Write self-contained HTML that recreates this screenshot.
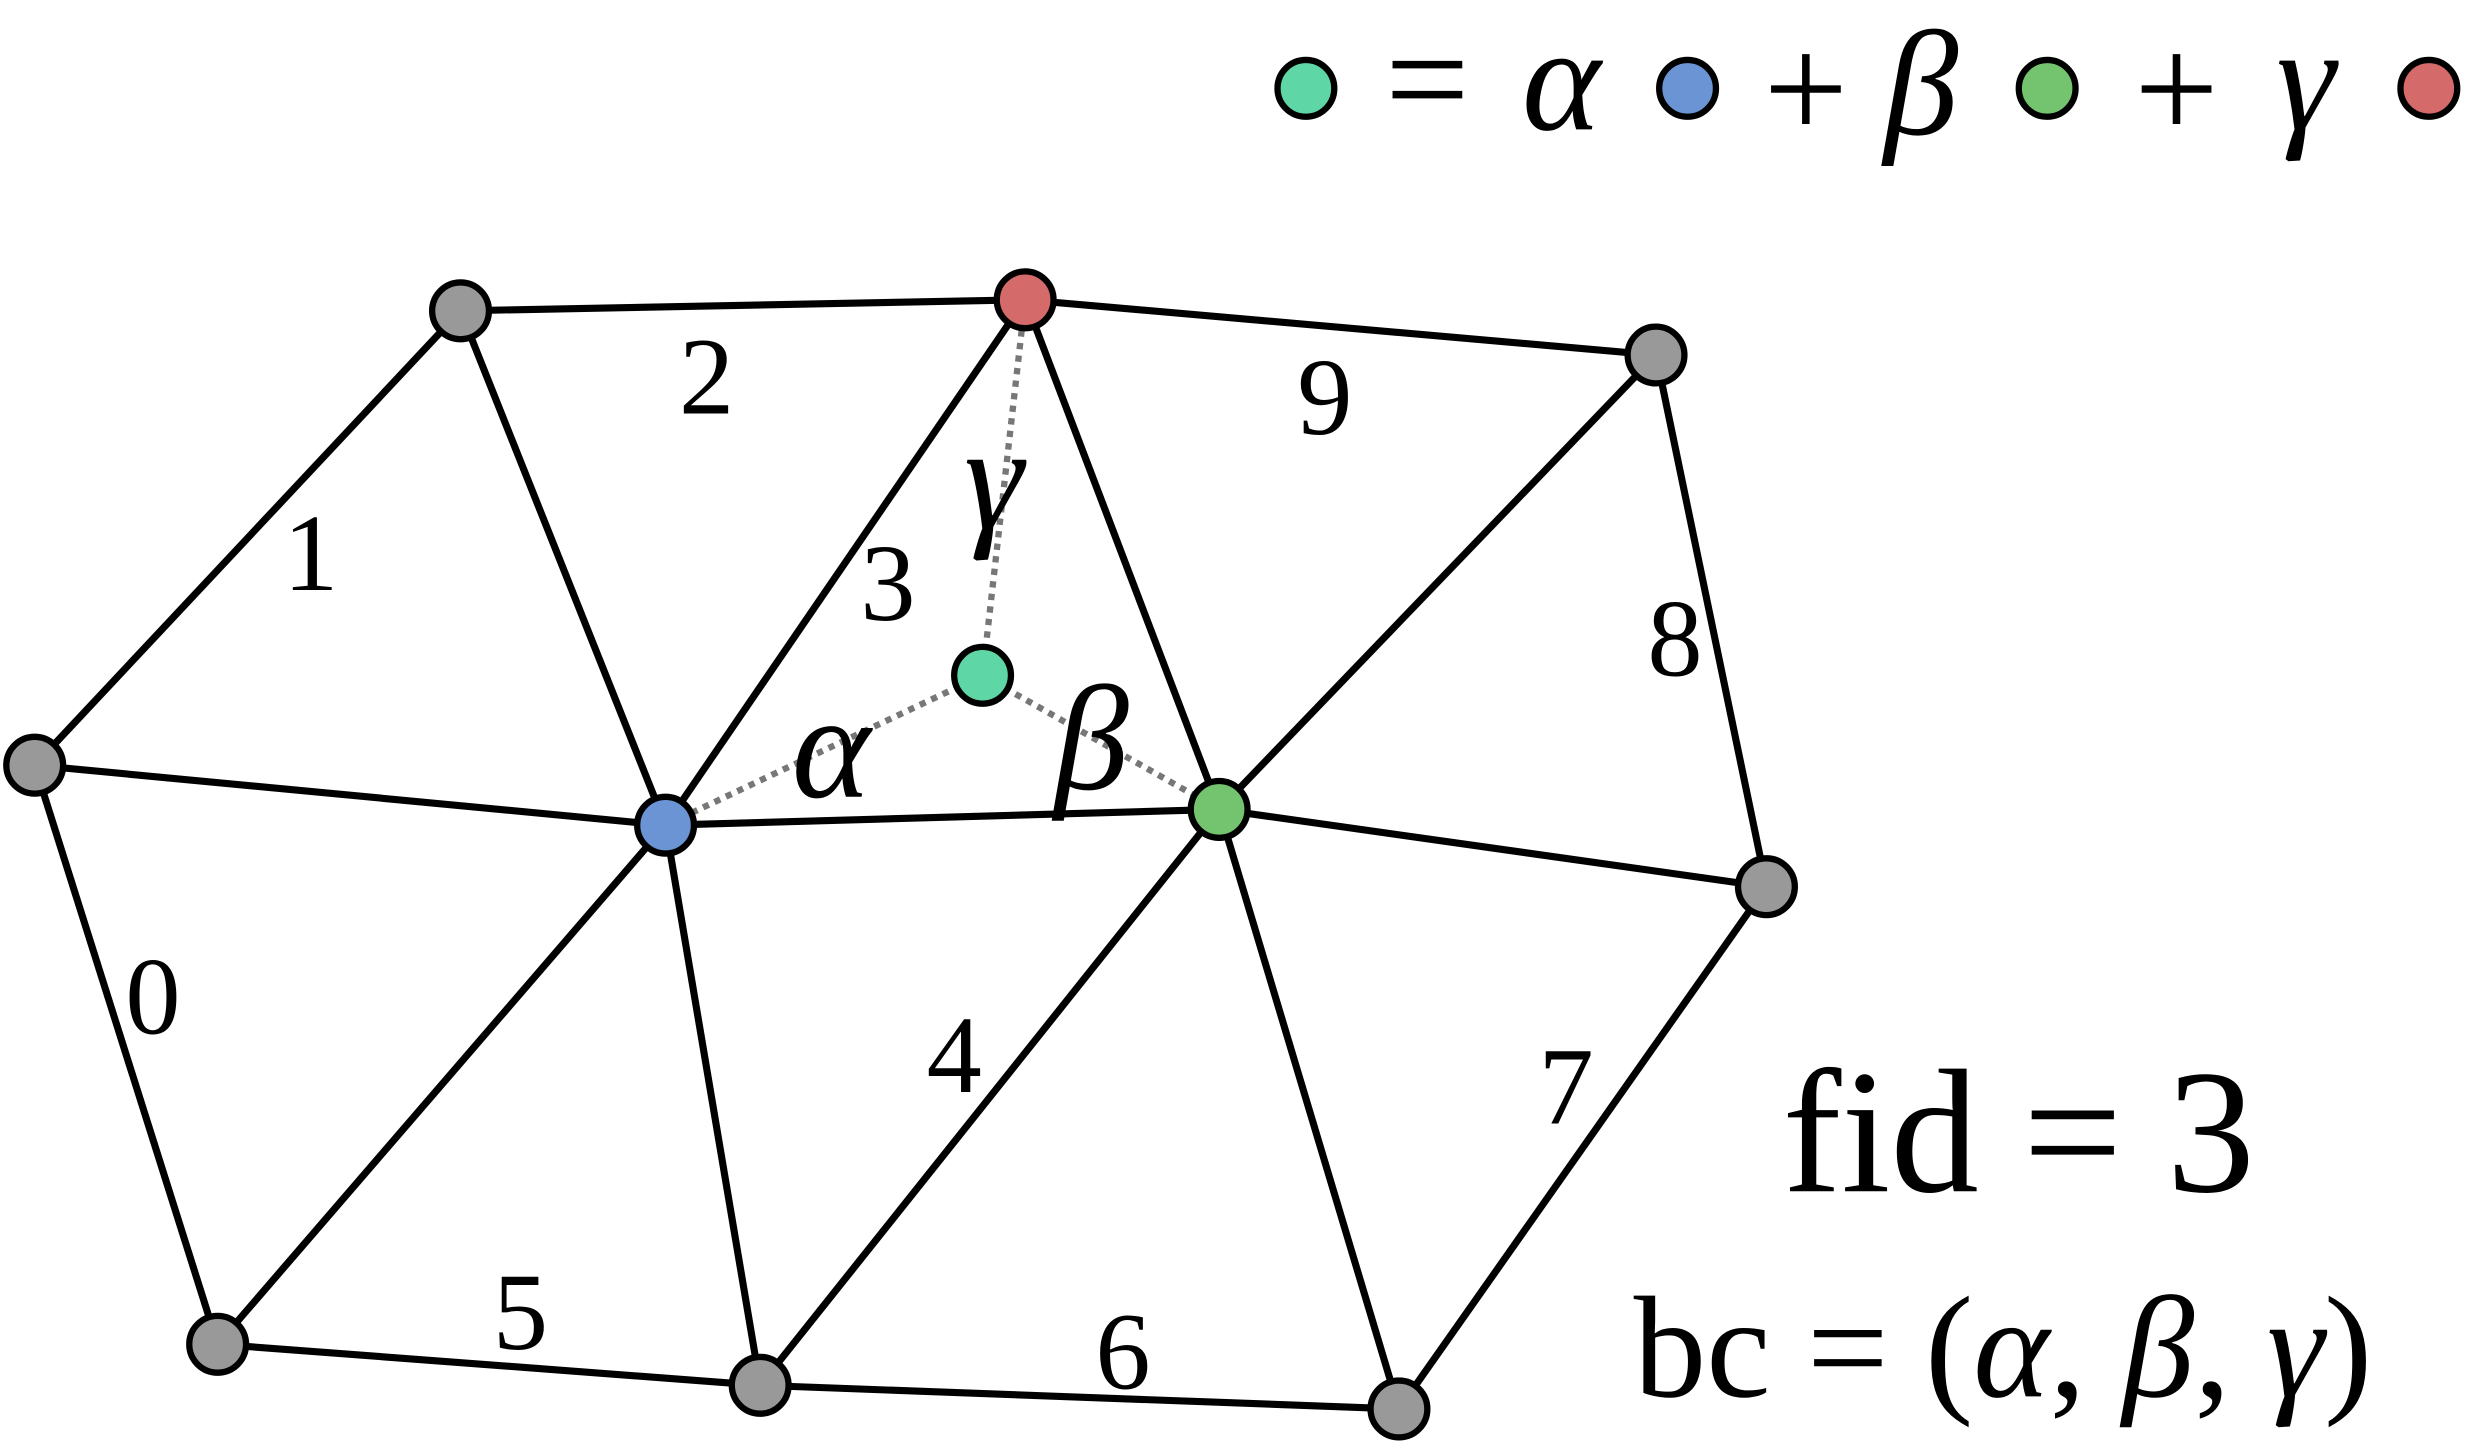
<!DOCTYPE html>
<html><head><meta charset="utf-8"><style>
html,body{margin:0;padding:0;background:#fff}
svg{display:block}
text{font-family:"Liberation Serif",serif;fill:#000}
</style></head><body>
<svg width="2473" height="1450" viewBox="0 0 1568 919" preserveAspectRatio="none" xmlns="http://www.w3.org/2000/svg">
<g stroke="#000" stroke-width="4.5" fill="none">
<line x1="292" y1="197" x2="650" y2="190"/>
<line x1="650" y1="190" x2="1050" y2="225"/>
<line x1="292" y1="197" x2="22" y2="485"/>
<line x1="292" y1="197" x2="422" y2="523"/>
<line x1="650" y1="190" x2="422" y2="523"/>
<line x1="650" y1="190" x2="773" y2="513"/>
<line x1="1050" y1="225" x2="773" y2="513"/>
<line x1="1050" y1="225" x2="1120" y2="562"/>
<line x1="22" y1="485" x2="422" y2="523"/>
<line x1="22" y1="485" x2="138" y2="852"/>
<line x1="422" y1="523" x2="773" y2="513"/>
<line x1="773" y1="513" x2="1120" y2="562"/>
<line x1="422" y1="523" x2="138" y2="852"/>
<line x1="422" y1="523" x2="482" y2="878"/>
<line x1="773" y1="513" x2="482" y2="878"/>
<line x1="773" y1="513" x2="887" y2="893"/>
<line x1="1120" y1="562" x2="887" y2="893"/>
<line x1="138" y1="852" x2="482" y2="878"/>
<line x1="482" y1="878" x2="887" y2="893"/>
</g>
<g stroke="#777" stroke-width="4" stroke-dasharray="4,4" fill="none">
<line x1="623" y1="428" x2="650" y2="190"/>
<line x1="623" y1="428" x2="422" y2="523"/>
<line x1="623" y1="428" x2="773" y2="513"/>
</g>
<g stroke="#000" stroke-width="4">
<circle cx="292" cy="197" r="18" fill="#999"/>
<circle cx="650" cy="190" r="18" fill="#d46a6a"/>
<circle cx="1050" cy="225" r="18" fill="#999"/>
<circle cx="22" cy="485" r="18" fill="#999"/>
<circle cx="422" cy="523" r="18" fill="#6a94d4"/>
<circle cx="773" cy="513" r="18" fill="#74c46f"/>
<circle cx="623" cy="428" r="18" fill="#5fd6a6"/>
<circle cx="1120" cy="562" r="18" fill="#999"/>
<circle cx="138" cy="852" r="18" fill="#999"/>
<circle cx="482" cy="878" r="18" fill="#999"/>
<circle cx="887" cy="893" r="18" fill="#999"/>
<circle cx="828" cy="56" r="18" fill="#5fd6a6"/>
<circle cx="1070" cy="56" r="18" fill="#6a94d4"/>
<circle cx="1298" cy="56" r="18" fill="#74c46f"/>
<circle cx="1540" cy="56" r="18" fill="#d46a6a"/>
</g>
<g font-size="70" text-anchor="middle">
<text x="97" y="655">0</text>
<text x="197" y="374">1</text>
<text x="448" y="262">2</text>
<text x="563" y="393">3</text>
<text x="605" y="692">4</text>
<text x="330" y="855">5</text>
<text x="712" y="880">6</text>
<text x="993" y="712">7</text>
<text x="1062" y="428">8</text>
<text x="840" y="275">9</text>
</g>
<g font-style="italic" font-size="95" text-anchor="middle">
<text x="527" y="505">α</text>
<text x="692" y="500">β</text>
<text x="630" y="335">γ</text>
<text x="990" y="82">α</text>
<text x="1218" y="85">β</text>
<text x="1462" y="82">γ</text>
</g>
<g font-size="95" text-anchor="middle">
<text x="905" y="82">=</text>
<text x="1145" y="88">+</text>
<text x="1380" y="88">+</text>
</g>
<text x="1280" y="755" font-size="112" text-anchor="middle">fid = 3</text>
<text x="1270" y="885" font-size="92" text-anchor="middle">bc = (<tspan font-style="italic">α</tspan>, <tspan font-style="italic">β</tspan>, <tspan font-style="italic">γ</tspan>)</text>
</svg>
</body></html>
